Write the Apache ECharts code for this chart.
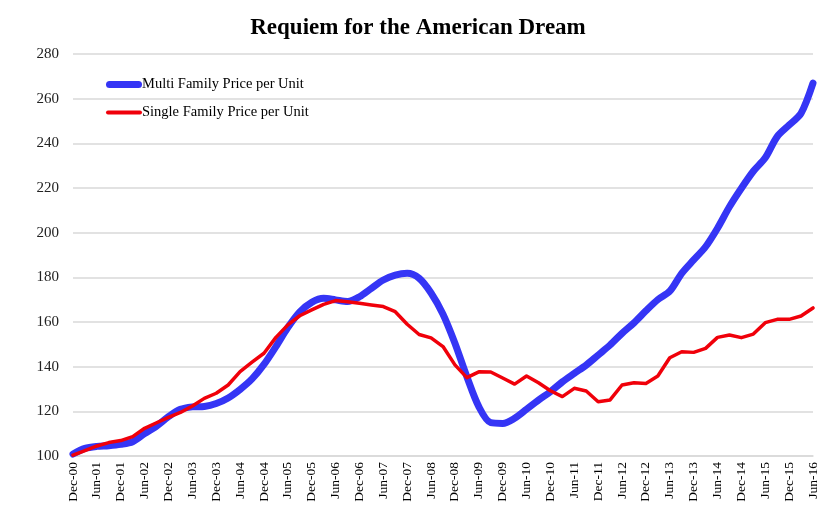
<!DOCTYPE html>
<html>
<head>
<meta charset="utf-8">
<script src="https://cdn.jsdelivr.net/npm/echarts@6/dist/echarts.min.js"></script>
<style>
  html, body { margin: 0; padding: 0; background: #fff; }
  #chart { width: 836px; height: 523px; }
</style>
</head>
<body>
<div id="chart"></div>
<script>
// quarterly dates, Dec-00 .. Jun-16
let quarters = [
  'Dec-00', 'Mar-01', 'Jun-01', 'Sep-01', 'Dec-01', 'Mar-02', 'Jun-02', 'Sep-02',
  'Dec-02', 'Mar-03', 'Jun-03', 'Sep-03', 'Dec-03', 'Mar-04', 'Jun-04', 'Sep-04',
  'Dec-04', 'Mar-05', 'Jun-05', 'Sep-05', 'Dec-05', 'Mar-06', 'Jun-06', 'Sep-06',
  'Dec-06', 'Mar-07', 'Jun-07', 'Sep-07', 'Dec-07', 'Mar-08', 'Jun-08', 'Sep-08',
  'Dec-08', 'Mar-09', 'Jun-09', 'Sep-09', 'Dec-09', 'Mar-10', 'Jun-10', 'Sep-10',
  'Dec-10', 'Mar-11', 'Jun-11', 'Sep-11', 'Dec-11', 'Mar-12', 'Jun-12', 'Sep-12',
  'Dec-12', 'Mar-13', 'Jun-13', 'Sep-13', 'Dec-13', 'Mar-14', 'Jun-14', 'Sep-14',
  'Dec-14', 'Mar-15', 'Jun-15', 'Sep-15', 'Dec-15', 'Mar-16', 'Jun-16'
];

// multi family price per unit (index)
let multiFamily = [
  100.9, 103.4, 104.3, 104.6, 105.2, 106.4, 110.0, 113.4,
  117.6, 120.9, 122.0, 122.2, 123.5, 126.0, 129.8, 134.5,
  141.0, 149.0, 157.5, 164.5, 168.8, 170.6, 169.9, 169.2,
  171.3, 175.1, 178.8, 181.0, 181.8, 179.6, 173.0, 163.5,
  150.5, 135.5, 122.1, 114.9, 114.6, 116.9, 120.9, 125.0,
  128.8, 133.2, 137.0, 140.7, 145.2, 149.7, 154.9, 159.6,
  165.0, 170.0, 173.8, 181.8, 187.8, 193.7, 202.0, 211.6,
  219.9, 227.5, 233.5, 243.0, 248.2, 253.5, 267.0
];

// single family price per unit (index)
let singleFamily = [
  100.4, 102.4, 104.5, 106.0, 106.9, 108.7, 112.4, 114.9,
  117.3, 119.5, 122.4, 125.8, 128.1, 131.8, 137.8, 142.0,
  146.0, 153.1, 158.7, 162.8, 165.4, 167.9, 169.6, 169.1,
  168.4, 167.6, 166.9, 164.6, 159.0, 154.4, 152.9, 149.0,
  140.8, 135.1, 137.7, 137.6, 134.9, 132.2, 135.8, 132.8,
  129.2, 126.6, 130.3, 129.1, 124.3, 125.1, 131.8, 132.8,
  132.5, 135.8, 144.0, 146.7, 146.4, 148.2, 153.1, 154.2,
  153.0, 154.6, 159.7, 161.2, 161.2, 162.7, 166.3
];

let yTicks = { min: 100, max: 280, step: 20 };

let serif = '"Liberation Serif", "DejaVu Serif", serif';

// 图例用圆头粗线
let thickBar = 'path://M3.5,0 H32.5 A3.5,3.5 0 0 1 32.5,7 H3.5 A3.5,3.5 0 0 1 3.5,0 Z';
let thinBar = 'path://M2,0 H34 A2,2 0 0 1 34,4 H2 A2,2 0 0 1 2,0 Z';

let myChart = echarts.init(document.getElementById('chart'));
let option = {
  animation: false,
  backgroundColor: '#fff',
  title: {
    text: 'Requiem for the American Dream',
    left: 'center',
    top: 12,
    textStyle: { fontFamily: serif, fontSize: 23, fontWeight: 'bold', color: '#000' }
  },
  legend: {
    orient: 'vertical',
    left: 101,
    top: 72,
    itemWidth: 36,
    itemHeight: 12,
    itemGap: 13,
    textStyle: { fontFamily: serif, fontSize: 14.5, color: '#000', padding: [0, 0, 0, -5] },
    data: [
      { name: 'Multi Family Price per Unit', icon: thickBar },
      { name: 'Single Family Price per Unit', icon: thinBar }
    ]
  },
  grid: { left: 73, right: 23, top: 54, bottom: 67 },
  xAxis: {
    type: 'category',
    boundaryGap: false,
    data: quarters,
    axisLine: { lineStyle: { color: '#d9d9d9', width: 1.5 } },
    axisTick: { show: false },
    axisLabel: {
      interval: 1,
      rotate: 90,
      margin: 6,
      fontFamily: serif,
      fontSize: 13.5,
      color: '#000'
    }
  },
  yAxis: {
    type: 'value',
    min: yTicks.min,
    max: yTicks.max,
    interval: yTicks.step,
    axisLine: { show: false },
    axisTick: { show: false },
    axisLabel: { fontFamily: serif, fontSize: 15, color: '#222', margin: 14 },
    splitLine: { lineStyle: { color: '#d9d9d9', width: 1.5 } }
  },
  series: [
    {
      name: 'Multi Family Price per Unit',
      type: 'line',
      data: multiFamily,
      symbol: 'none',
      smooth: 0.3,
      z: 2,
      itemStyle: { color: '#3535f5' },
      lineStyle: { color: '#3535f5', width: 7, cap: 'round', join: 'round' }
    },
    {
      name: 'Single Family Price per Unit',
      type: 'line',
      data: singleFamily,
      symbol: 'none',
      smooth: false,
      z: 3,
      itemStyle: { color: '#f0000a' },
      lineStyle: { color: '#f0000a', width: 3.5, cap: 'round', join: 'round' }
    }
  ]
};
myChart.setOption(option);
</script>
</body>
</html>
